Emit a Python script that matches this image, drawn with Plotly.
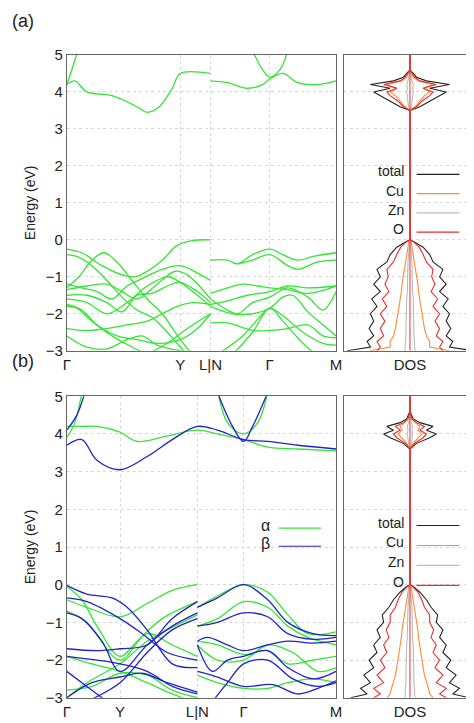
import plotly.graph_objects as go

# ---------- high-symmetry path ----------
kpath_labels = ["Γ", "Y", "L|N", "Γ", "M"]
kpath_a = [0, 113, 143, 202, 268]
kpath_b = [0, 53, 130, 176, 268]

# ---------- panel (a) bands : (k, E) ----------
bands_a = [
    [(0,-0.25),(15,-0.35),(35,-0.7),(55,-0.95),(68,-1.0),(80,-0.85),(95,-0.55),(110,-0.15),(125,-0.02),(143,0)],
    [(0,-0.4),(10,-0.45),(25,-0.7),(40,-1.1),(55,-1.55),(70,-1.9),(85,-2.1),(100,-2.5),(113,-2.9),(120,-3.1)],
    [(0,-1.3),(12,-1.0),(25,-0.55),(37,-0.35),(50,-0.6),(65,-1.1),(80,-1.6),(95,-2.0),(113,-2.7),(125,-3.1)],
    [(0,-1.2),(15,-1.3),(30,-1.4),(45,-1.6),(60,-1.25),(75,-1.05),(95,-0.8),(113,-0.7),(130,-0.9),(143,-1.1)],
    [(0,-1.35),(20,-1.25),(40,-1.2),(55,-1.4),(70,-1.6),(90,-1.2),(108,-0.85),(120,-0.95),(143,-1.6)],
    [(0,-1.5),(20,-1.5),(40,-1.7),(55,-1.95),(70,-1.5),(85,-1.45),(100,-1.25),(113,-1.15),(130,-1.4),(143,-1.7)],
    [(0,-1.6),(20,-1.7),(40,-2.0),(60,-1.7),(80,-1.25),(100,-1.0),(113,-1.15),(130,-1.5),(143,-1.8)],
    [(0,-1.8),(10,-1.85),(25,-2.2),(45,-2.6),(65,-2.9),(80,-3.1)],
    [(0,-1.75),(15,-1.9),(30,-2.3),(50,-2.6),(70,-2.7),(90,-2.8),(113,-2.7),(130,-2.4),(143,-2.0)],
    [(0,-2.4),(20,-2.45),(40,-2.4),(60,-2.3),(80,-2.2),(95,-2.0),(110,-1.8),(125,-1.7),(143,-1.75)],
    [(0,-2.6),(20,-2.9),(40,-2.95),(60,-2.7),(75,-2.6),(90,-2.85),(113,-3.0)],
    [(80,-3.1),(100,-2.8),(120,-2.4),(143,-2.0)],
    [(0,4.2),(8,4.3),(20,4.0),(45,3.9),(70,3.6),(80,3.45),(92,3.6),(105,4.1),(113,4.5),(143,4.5)],
    [(0,4.2),(5,4.6),(12,5.2)],
    [(143,-0.55),(160,-0.55),(170,-0.65),(185,-0.4),(202,-0.25),(215,-0.4),(230,-0.55),(245,-0.45),(268,-0.35)],
    [(170,-0.65),(185,-0.55),(202,-0.4),(220,-0.7),(230,-0.8),(250,-0.6),(268,-0.55)],
    [(143,-1.45),(160,-1.3),(175,-1.2),(190,-1.25),(202,-1.3),(220,-1.35),(240,-1.45),(268,-1.25)],
    [(143,-1.6),(160,-1.9),(170,-2.0),(185,-1.7),(202,-1.55),(220,-1.3),(240,-1.55),(255,-1.9),(268,-1.4)],
    [(143,-1.75),(160,-1.65),(180,-1.5),(202,-1.4),(220,-1.25),(240,-1.3),(268,-1.25)],
    [(143,-1.8),(165,-2.0),(185,-2.0),(202,-1.85),(215,-1.55),(225,-1.5),(240,-1.95),(255,-2.3),(268,-2.6)],
    [(150,-3.1),(175,-2.6),(195,-2.0),(202,-1.85),(215,-2.05),(235,-2.5),(255,-2.8),(268,-2.85)],
    [(165,-3.1),(185,-2.5),(202,-1.85),(215,-2.2),(235,-2.8),(248,-3.1)],
    [(143,-2.25),(160,-2.25),(185,-2.45),(202,-2.45),(220,-2.4),(240,-2.3),(255,-2.6),(268,-2.65)],
    [(143,4.3),(160,4.25),(180,4.1),(195,4.2),(202,4.35),(215,4.5),(230,4.25),(250,4.2),(268,4.3)],
    [(185,5.1),(195,4.6),(202,4.4),(212,4.6),(220,5.1)],
]

# ---------- panel (b) bands ----------
bands_b_alpha = [
    [(0,-0.4),(20,-0.6),(53,-0.85),(80,-0.5),(105,-0.15),(130,0)],
    [(0,-0.05),(15,-0.4),(30,-1.1),(53,-1.9),(70,-1.5),(95,-0.9),(130,-0.45)],
    [(0,-0.7),(20,-1.0),(53,-2.0),(80,-1.3),(105,-1.6),(130,-1.9)],
    [(0,-1.9),(25,-2.1),(53,-2.3),(80,-2.6),(105,-2.9),(125,-3.1)],
    [(0,-2.8),(25,-2.7),(53,-2.35),(80,-2.4),(105,-2.8),(130,-3.0)],
    [(0,-3.0),(20,-2.6),(53,-2.1),(80,-1.5),(100,-1.2),(130,-0.8)],
    [(130,-0.6),(150,-0.3),(176,0),(200,-0.2),(220,-0.8),(240,-1.3),(268,-1.25)],
    [(130,-1.1),(150,-0.9),(176,-0.45),(200,-0.6),(220,-1.1),(240,-1.4),(268,-1.6)],
    [(130,-1.5),(150,-1.6),(176,-1.85),(200,-1.75),(220,-2.1),(245,-2.0),(268,-1.9)],
    [(130,-2.4),(150,-2.6),(176,-2.75),(200,-2.75),(220,-2.6),(245,-2.5),(268,-2.6)],
    [(130,-1.6),(150,-2.0),(176,-2.0),(200,-1.6),(225,-1.8),(250,-2.3),(268,-2.2)],
    [(0,4.2),(15,4.2),(30,4.2),(53,4.05),(70,3.8),(100,3.95),(130,4.1),(150,4.0),(176,3.85),(200,3.65),(230,3.6),(268,3.55)],
    [(0,3.9),(8,4.3),(15,5.1)],
    [(150,5.2),(160,4.3),(176,4.0),(190,4.3),(200,5.1)],
]
bands_b_beta = [
    [(0,-0.02),(20,-0.25),(45,-0.35),(60,-0.6),(80,-1.2),(105,-2.1),(130,-2.2)],
    [(0,-0.35),(20,-0.45),(53,-0.9),(75,-1.3),(100,-1.8),(130,-2.0)],
    [(0,-0.75),(15,-0.9),(35,-1.5),(53,-2.3),(80,-1.6),(105,-1.1),(130,-0.75)],
    [(0,-1.7),(30,-1.75),(53,-1.7),(80,-1.6),(105,-0.9),(130,-0.45)],
    [(0,-1.9),(30,-2.0),(53,-2.1),(80,-2.3),(105,-2.7),(130,-2.9)],
    [(0,-2.3),(20,-2.7),(40,-3.1)],
    [(0,-3.0),(25,-2.6),(53,-2.45),(75,-2.35),(100,-2.6),(130,-2.85)],
    [(20,-3.1),(53,-2.6),(80,-1.8),(105,-1.2),(130,-0.9)],
    [(130,-0.6),(150,-0.35),(176,0),(200,-0.4),(220,-1.0),(245,-1.3),(268,-1.35)],
    [(130,-1.1),(150,-1.0),(176,-0.75),(200,-0.85),(220,-1.3),(245,-1.45),(268,-1.4)],
    [(130,-1.5),(140,-1.4),(160,-1.6),(176,-1.75),(200,-1.6),(220,-1.5),(245,-1.55),(268,-1.5)],
    [(130,-1.6),(145,-2.3),(160,-2.0),(176,-1.9),(200,-1.75),(220,-2.2),(245,-2.5),(268,-2.3)],
    [(130,-2.3),(150,-2.45),(176,-2.7),(205,-2.65),(230,-2.9),(250,-2.75),(268,-2.55)],
    [(145,-3.1),(160,-2.6),(176,-2.1),(200,-2.0),(225,-2.5),(250,-2.7),(268,-2.6)],
    [(0,3.7),(15,3.85),(30,3.3),(53,3.05),(80,3.4),(105,3.85),(130,4.2),(150,4.1),(176,3.85),(200,3.8),(230,3.7),(268,3.6)],
    [(0,4.1),(10,4.5),(18,5.1)],
    [(150,5.1),(165,4.2),(176,3.8),(185,4.2),(200,5.1)],
]

# ---------- DOS (symmetric, mirrored) ----------
dos_E = [-3.0,-2.9,-2.75,-2.6,-2.4,-2.2,-2.0,-1.8,-1.6,-1.4,-1.2,-1.0,-0.8,-0.6,-0.4,-0.2,-0.05,0.0,
         3.5,3.6,3.75,3.9,4.0,4.1,4.2,4.3,4.4,4.5,4.6,5.0]
dos_a_total = [0.95,0.6,0.65,0.55,0.62,0.55,0.6,0.5,0.58,0.45,0.55,0.45,0.5,0.35,0.3,0.2,0.06,0,
               0,0.15,0.3,0.45,0.55,0.3,0.6,0.25,0.1,0.05,0,0]
dos_a_cu = [0.6,0.3,0.3,0.25,0.22,0.2,0.18,0.16,0.15,0.13,0.12,0.1,0.08,0.06,0.04,0.03,0.02,0,
            0,0.08,0.15,0.22,0.3,0.2,0.35,0.12,0.05,0.02,0,0]
dos_a_zn = [0.08,0.07,0.07,0.06,0.06,0.06,0.05,0.05,0.05,0.04,0.04,0.04,0.03,0.03,0.02,0.02,0.01,0,
            0,0.02,0.03,0.04,0.05,0.04,0.05,0.03,0.02,0.01,0,0]
dos_a_o = [0.5,0.45,0.5,0.4,0.45,0.38,0.45,0.35,0.42,0.32,0.38,0.33,0.35,0.25,0.2,0.14,0.05,0,
           0,0.1,0.18,0.3,0.35,0.2,0.4,0.15,0.07,0.03,0,0]
dos_b_total = [0.9,0.65,0.75,0.6,0.7,0.55,0.62,0.5,0.55,0.45,0.5,0.4,0.42,0.32,0.25,0.15,0.05,0,
               0,0.0,0.1,0.3,0.4,0.25,0.35,0.15,0.05,0.02,0,0]
dos_b_cu = [0.35,0.3,0.28,0.25,0.22,0.2,0.18,0.16,0.15,0.13,0.12,0.1,0.08,0.06,0.05,0.03,0.02,0,
            0,0.0,0.05,0.12,0.18,0.12,0.15,0.08,0.03,0.01,0,0]
dos_b_zn = [0.08,0.07,0.07,0.06,0.06,0.06,0.05,0.05,0.05,0.04,0.04,0.04,0.03,0.03,0.02,0.02,0.01,0,
            0,0,0.02,0.03,0.04,0.03,0.04,0.02,0.01,0.01,0,0]
dos_b_o = [0.55,0.45,0.55,0.4,0.5,0.38,0.45,0.35,0.4,0.32,0.36,0.3,0.3,0.22,0.18,0.12,0.04,0,
           0,0,0.07,0.2,0.25,0.15,0.22,0.1,0.03,0.01,0,0]

GREEN = "#33e633"
BLUE = "#2222cc"
dos_colors = {"total": "#222222", "Cu": "#ff8a33", "Zn": "#bbbbbb", "O": "#e62e2e"}

fig = go.Figure()

def add_bands(bands, color, xa, ya):
    for b in bands:
        fig.add_trace(go.Scatter(x=[p[0] for p in b], y=[p[1] for p in b], mode="lines",
                                 line=dict(color=color, width=1.3, shape="spline", smoothing=1.0),
                                 xaxis=xa, yaxis=ya, showlegend=False, hoverinfo="skip"))

add_bands(bands_a, GREEN, "x", "y")
add_bands(bands_b_alpha, GREEN, "x3", "y3")
add_bands(bands_b_beta, BLUE, "x3", "y3")

def add_dos(series, xa, ya):
    for name, vals in series:
        c = dos_colors[name]
        for sgn in (1, -1):
            fig.add_trace(go.Scatter(x=[sgn * v for v in vals], y=dos_E, mode="lines",
                                     line=dict(color=c, width=1.1),
                                     xaxis=xa, yaxis=ya, showlegend=False, hoverinfo="skip"))
    fig.add_trace(go.Scatter(x=[0, 0], y=[-3, 5], mode="lines", line=dict(color=dos_colors["O"], width=1),
                             xaxis=xa, yaxis=ya, showlegend=False, hoverinfo="skip"))

add_dos([("total", dos_a_total), ("Cu", dos_a_cu), ("Zn", dos_a_zn), ("O", dos_a_o)], "x2", "y2")
add_dos([("total", dos_b_total), ("Cu", dos_b_cu), ("Zn", dos_b_zn), ("O", dos_b_o)], "x4", "y4")

FONT = dict(family="Liberation Sans, Arial, sans-serif", size=15, color="#222")
ax_common = dict(showline=True, mirror=True, linecolor="#666", linewidth=1, ticks="",
                 zeroline=False, gridcolor="#d8d8d8", griddash="dot", tickfont=FONT)
dom_band = [0.124, 0.692]
dom_dos = [0.709, 0.987]
dom_ya = [0.526, 0.935]
dom_yb = [0.046, 0.463]

fig.update_layout(
    width=474, height=723, margin=dict(l=0, r=0, t=0, b=0, autoexpand=False),
    plot_bgcolor="white", paper_bgcolor="white", font=FONT,
    xaxis=dict(domain=dom_band, anchor="y", range=[0, 268], tickvals=kpath_a, ticktext=kpath_labels,
               showgrid=True, **ax_common),
    xaxis2=dict(domain=dom_dos, anchor="y2", range=[-1, 1], tickvals=[0], ticktext=["DOS"],
                showgrid=False, **ax_common),
    xaxis3=dict(domain=dom_band, anchor="y3", range=[0, 268], tickvals=kpath_b, ticktext=kpath_labels,
                showgrid=True, **ax_common),
    xaxis4=dict(domain=dom_dos, anchor="y4", range=[-1, 1], tickvals=[0], ticktext=["DOS"],
                showgrid=False, **ax_common),
    yaxis=dict(domain=dom_ya, anchor="x", range=[-3, 5], dtick=1, showgrid=True,
               title=dict(text="Energy (eV)", font=dict(size=14), standoff=6), **ax_common),
    yaxis2=dict(domain=dom_ya, anchor="x2", range=[-3, 5], dtick=1, showgrid=True, showticklabels=False, **ax_common),
    yaxis3=dict(domain=dom_yb, anchor="x3", range=[-3, 5], dtick=1, showgrid=True,
                title=dict(text="Energy (eV)", font=dict(size=14), standoff=6), **ax_common),
    yaxis4=dict(domain=dom_yb, anchor="x4", range=[-3, 5], dtick=1, showgrid=True, showticklabels=False, **ax_common),
)

fig.add_annotation(text="(a)", x=0.005, y=0.998, xref="paper", yref="paper", xanchor="left", yanchor="top",
                   showarrow=False, font=dict(size=18, color="#222"))
fig.add_annotation(text="(b)", x=0.005, y=0.528, xref="paper", yref="paper", xanchor="left", yanchor="top",
                   showarrow=False, font=dict(size=18, color="#222"))

def dos_legend(xa, ya, ys):
    for (name, c), yv in zip(dos_colors.items(), ys):
        fig.add_annotation(text=name, x=-0.06, y=yv, xref=xa, yref=ya, xanchor="right", yanchor="middle",
                           showarrow=False, font=dict(size=14, color="#222"))
        fig.add_shape(type="line", x0=0.1, x1=0.75, y0=yv - 0.08, y1=yv - 0.08, xref=xa, yref=ya,
                      line=dict(color=c, width=1.2))
dos_legend("x2", "y2", [1.85, 1.33, 0.81, 0.29])
dos_legend("x4", "y4", [1.65, 1.12, 0.59, 0.06])

for name, c, yv in [("α", GREEN, 1.58), ("β", BLUE, 1.1)]:
    fig.add_annotation(text=name, x=204, y=yv, xref="x3", yref="y3", xanchor="right", showarrow=False,
                       font=dict(size=16, color="#222"))
    fig.add_shape(type="line", x0=211, x1=253, y0=yv - 0.08, y1=yv - 0.08, xref="x3", yref="y3",
                  line=dict(color=c, width=1.2))

fig.write_html("out.html")
